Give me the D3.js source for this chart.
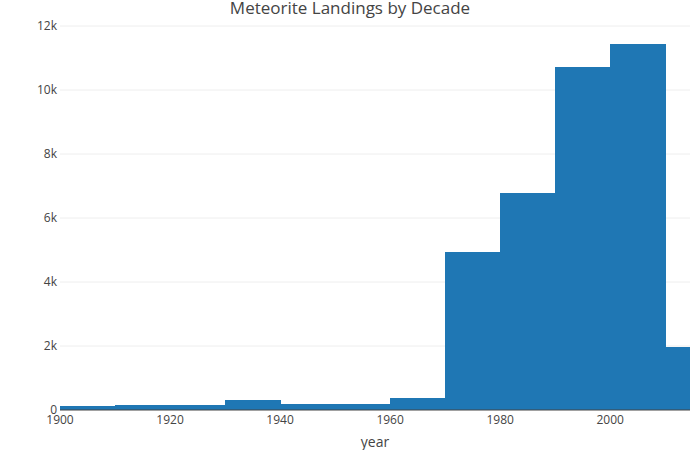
<!DOCTYPE html>
<html>
<head>
<meta charset="utf-8">
<script src="https://cdn.jsdelivr.net/npm/d3@7"></script>
<style>
body { margin: 0; background: #fff; }
text { font-family: "Open Sans", Verdana, sans-serif; }
</style>
</head>
<body>
<svg id="chart" width="700" height="450"></svg>
<script>
const decades = [1900, 1910, 1920, 1930, 1940, 1950, 1960, 1970, 1980, 1990, 2000, 2010];
const counts = [125, 150, 150, 310, 180, 180, 370, 4940, 6780, 10720, 11440, 1970];
const yTicks = [0, 2000, 4000, 6000, 8000, 10000, 12000];
const xTicks = [1900, 1920, 1940, 1960, 1980, 2000];

const svg = d3.select("#chart");
const margin = { left: 60, right: 10, top: 26, bottom: 40 };
const x = d3.scaleLinear().domain([1900, 2014.5]).range([margin.left, 700 - margin.right]);
const y = d3.scaleLinear().domain([0, 12000]).range([450 - margin.bottom, margin.top]);

// grid
svg.append("g").selectAll("line").data(yTicks.slice(1)).join("line")
    .attr("x1", margin.left).attr("x2", 700 - margin.right)
    .attr("y1", d => y(d)).attr("y2", d => y(d))
    .attr("stroke", "#eee");

svg.append("clipPath").attr("id", "clip").append("rect")
    .attr("x", margin.left).attr("y", 0)
    .attr("width", 700 - margin.right - margin.left).attr("height", 450);

svg.append("g").attr("clip-path", "url(#clip)")
    .selectAll("rect").data(decades).join("rect")
    .attr("x", d => x(d))
    .attr("width", d => x(d + 10) - x(d) + 0.5)
    .attr("y", (d, i) => y(counts[i]))
    .attr("height", (d, i) => y(0) - y(counts[i]))
    .attr("fill", "#1f77b4")
    .attr("shape-rendering", "crispEdges");

// y axis labels
svg.append("g").selectAll("text").data(yTicks).join("text")
    .attr("x", margin.left - 3).attr("y", d => y(d) + 4)
    .attr("text-anchor", "end").attr("font-size", 12).attr("fill", "#444")
    .text(d => d === 0 ? "0" : d / 1000 + "k");

// x axis
svg.append("line").attr("x1", margin.left).attr("x2", 700 - margin.right)
    .attr("y1", y(0)).attr("y2", y(0)).attr("stroke", "#444");
svg.append("g").selectAll("text").data(xTicks).join("text")
    .attr("x", d => x(d)).attr("y", y(0) + 14)
    .attr("text-anchor", "middle").attr("font-size", 12).attr("fill", "#444")
    .text(d => d);

svg.append("text").attr("x", 375).attr("y", 447)
    .attr("text-anchor", "middle").attr("font-size", 14).attr("fill", "#444")
    .text("year");

svg.append("text").attr("x", 350).attr("y", 14)
    .attr("text-anchor", "middle").attr("font-size", 17).attr("fill", "#444")
    .text("Meteorite Landings by Decade");
</script>
</body>
</html>
